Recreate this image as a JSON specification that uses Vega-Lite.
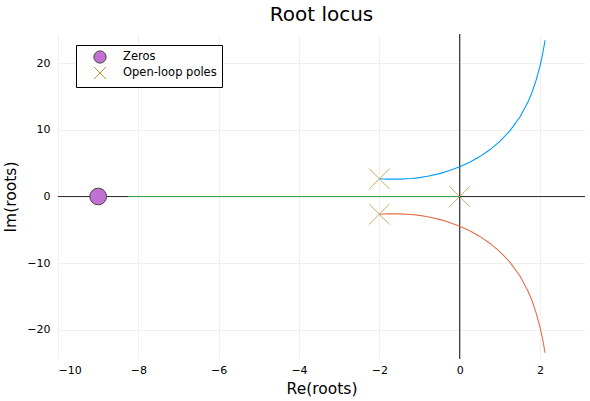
{
  "$schema": "https://vega.github.io/schema/vega-lite/v6.json",
  "width": 527,
  "height": 325,
  "autosize": {"type": "none"},
  "padding": {"left": 58, "top": 34, "right": 5, "bottom": 42},
  "background": "white",
  "title": {
    "text": "Root locus",
    "font": "DejaVu Sans",
    "fontSize": 20,
    "fontWeight": "normal",
    "color": "#000",
    "anchor": "middle",
    "offset": 8
  },
  "config": {
    "view": {"stroke": null},
    "font": "DejaVu Sans",
    "axis": {
      "domain": false,
      "ticks": false,
      "grid": true,
      "gridColor": "#f0f0f0",
      "gridWidth": 1,
      "labelFont": "DejaVu Sans",
      "labelFontSize": 11,
      "labelColor": "#000",
      "titleFont": "DejaVu Sans",
      "titleFontSize": 15.5,
      "titleFontWeight": "normal",
      "titleColor": "#000"
    },
    "axisX": {"labelPadding": 5, "titlePadding": 6},
    "axisY": {"labelPadding": 8, "titlePadding": 8}
  },
  "datasets": {
    "zero": [{"v": 0}],
    "locus": [
      {"branch": "b1", "x": -2.0, "y": 2.65},
      {"branch": "b1", "x": -1.9, "y": 2.624},
      {"branch": "b1", "x": -1.8, "y": 2.605},
      {"branch": "b1", "x": -1.5, "y": 2.602},
      {"branch": "b1", "x": -1.2, "y": 2.7},
      {"branch": "b1", "x": -1.0, "y": 2.833},
      {"branch": "b1", "x": -0.8, "y": 3.025},
      {"branch": "b1", "x": -0.5, "y": 3.432},
      {"branch": "b1", "x": -0.25, "y": 3.887},
      {"branch": "b1", "x": 0.0, "y": 4.454},
      {"branch": "b1", "x": 0.25, "y": 5.146},
      {"branch": "b1", "x": 0.5, "y": 5.983},
      {"branch": "b1", "x": 0.75, "y": 7.0},
      {"branch": "b1", "x": 1.0, "y": 8.25},
      {"branch": "b1", "x": 1.25, "y": 9.829},
      {"branch": "b1", "x": 1.5, "y": 11.91},
      {"branch": "b1", "x": 1.7, "y": 14.16},
      {"branch": "b1", "x": 1.8, "y": 15.6},
      {"branch": "b1", "x": 1.9, "y": 17.36},
      {"branch": "b1", "x": 2.0, "y": 19.57},
      {"branch": "b1", "x": 2.05, "y": 20.93},
      {"branch": "b1", "x": 2.08, "y": 21.85},
      {"branch": "b1", "x": 2.11, "y": 22.87},
      {"branch": "b1", "x": 2.125, "y": 23.42},
      {"branch": "b2", "x": -2.0, "y": -2.65},
      {"branch": "b2", "x": -1.9, "y": -2.624},
      {"branch": "b2", "x": -1.8, "y": -2.605},
      {"branch": "b2", "x": -1.5, "y": -2.602},
      {"branch": "b2", "x": -1.2, "y": -2.7},
      {"branch": "b2", "x": -1.0, "y": -2.833},
      {"branch": "b2", "x": -0.8, "y": -3.025},
      {"branch": "b2", "x": -0.5, "y": -3.432},
      {"branch": "b2", "x": -0.25, "y": -3.887},
      {"branch": "b2", "x": 0.0, "y": -4.454},
      {"branch": "b2", "x": 0.25, "y": -5.146},
      {"branch": "b2", "x": 0.5, "y": -5.983},
      {"branch": "b2", "x": 0.75, "y": -7.0},
      {"branch": "b2", "x": 1.0, "y": -8.25},
      {"branch": "b2", "x": 1.25, "y": -9.829},
      {"branch": "b2", "x": 1.5, "y": -11.91},
      {"branch": "b2", "x": 1.7, "y": -14.16},
      {"branch": "b2", "x": 1.8, "y": -15.6},
      {"branch": "b2", "x": 1.9, "y": -17.36},
      {"branch": "b2", "x": 2.0, "y": -19.57},
      {"branch": "b2", "x": 2.05, "y": -20.93},
      {"branch": "b2", "x": 2.08, "y": -21.85},
      {"branch": "b2", "x": 2.11, "y": -22.87},
      {"branch": "b2", "x": 2.125, "y": -23.42},
      {"branch": "b3", "x": -8.25, "y": 0},
      {"branch": "b3", "x": -4.0, "y": 0},
      {"branch": "b3", "x": 0.0, "y": 0}
    ],
    "markers": [
      {"type": "Zeros", "x": -9, "y": 0},
      {"type": "Open-loop poles", "x": -2, "y": 2.65},
      {"type": "Open-loop poles", "x": -2, "y": -2.65},
      {"type": "Open-loop poles", "x": 0, "y": 0}
    ]
  },
  "layer": [
    {
      "data": {"name": "zero"},
      "mark": {"type": "rule", "color": "#333", "strokeWidth": 1.2},
      "encoding": {
        "x": {"field": "v", "type": "quantitative", "title": "Re(roots)", "scale": {"domain": [-10, 3.12], "nice": false, "zero": false}, "axis": {"values": [-10, -8, -6, -4, -2, 0, 2]}}
      }
    },
    {
      "data": {"name": "zero"},
      "mark": {"type": "rule", "color": "#333", "strokeWidth": 1.2},
      "encoding": {
        "y": {"field": "v", "type": "quantitative", "title": "Im(roots)", "scale": {"domain": [-24.36, 24.36], "nice": false, "zero": false}, "axis": {"values": [-20, -10, 0, 10, 20]}}
      }
    },
    {
      "data": {"name": "locus"},
      "mark": {"type": "line", "strokeWidth": 1.1},
      "encoding": {
        "x": {"field": "x", "type": "quantitative", "title": "Re(roots)", "scale": {"domain": [-10, 3.12], "nice": false, "zero": false}, "axis": {"values": [-10, -8, -6, -4, -2, 0, 2]}},
        "y": {"field": "y", "type": "quantitative", "title": "Im(roots)", "scale": {"domain": [-24.36, 24.36], "nice": false, "zero": false}, "axis": {"values": [-20, -10, 0, 10, 20]}},
        "color": {
          "field": "branch",
          "type": "nominal",
          "scale": {"domain": ["b1", "b2", "b3"], "range": ["#009AFA", "#E26F46", "#3EA44E"]},
          "legend": null
        }
      }
    },
    {
      "data": {"name": "markers"},
      "transform": [{"filter": "datum.type == 'Zeros'"}],
      "mark": {"type": "point", "filled": true, "size": 280, "strokeWidth": 1, "opacity": 1},
      "encoding": {
        "x": {"field": "x", "type": "quantitative", "title": "Re(roots)", "scale": {"domain": [-10, 3.12], "nice": false, "zero": false}, "axis": {"values": [-10, -8, -6, -4, -2, 0, 2]}},
        "y": {"field": "y", "type": "quantitative", "title": "Im(roots)", "scale": {"domain": [-24.36, 24.36], "nice": false, "zero": false}, "axis": {"values": [-20, -10, 0, 10, 20]}},
        "fill": {
          "field": "type",
          "type": "nominal",
          "title": null,
          "scale": {"domain": ["Zeros", "Open-loop poles"], "range": ["#C271D2", "#AC8D18"]},
          "legend": {
            "orient": "none",
            "legendX": 18,
            "legendY": 11,
            "direction": "vertical",
            "strokeColor": "#000",
            "fillColor": "white",
            "padding": 5,
            "symbolSize": 150,
            "symbolStrokeWidth": 1,
            "symbolOffset": 12,
            "labelOffset": 16,
            "rowPadding": -3,
            "labelFont": "DejaVu Sans",
            "labelFontSize": 11.5,
            "labelColor": "#000"
          }
        },
        "stroke": {
          "field": "type",
          "type": "nominal",
          "title": null,
          "scale": {"domain": ["Zeros", "Open-loop poles"], "range": ["#444444", "#B89A3A"]}
        },
        "shape": {
          "field": "type",
          "type": "nominal",
          "title": null,
          "scale": {"domain": ["Zeros", "Open-loop poles"], "range": ["circle", "M -1 -1 L 1 1 M -1 1 L 1 -1"]}
        }
      }
    },
    {
      "data": {"name": "markers"},
      "transform": [{"filter": "datum.type == 'Open-loop poles'"}],
      "mark": {"type": "point", "filled": true, "size": 430, "strokeWidth": 1, "opacity": 0.8},
      "encoding": {
        "x": {"field": "x", "type": "quantitative", "title": "Re(roots)", "scale": {"domain": [-10, 3.12], "nice": false, "zero": false}, "axis": {"values": [-10, -8, -6, -4, -2, 0, 2]}},
        "y": {"field": "y", "type": "quantitative", "title": "Im(roots)", "scale": {"domain": [-24.36, 24.36], "nice": false, "zero": false}, "axis": {"values": [-20, -10, 0, 10, 20]}},
        "fill": {"field": "type", "type": "nominal", "title": null},
        "stroke": {"field": "type", "type": "nominal", "title": null},
        "shape": {"field": "type", "type": "nominal", "title": null}
      }
    }
  ]
}
